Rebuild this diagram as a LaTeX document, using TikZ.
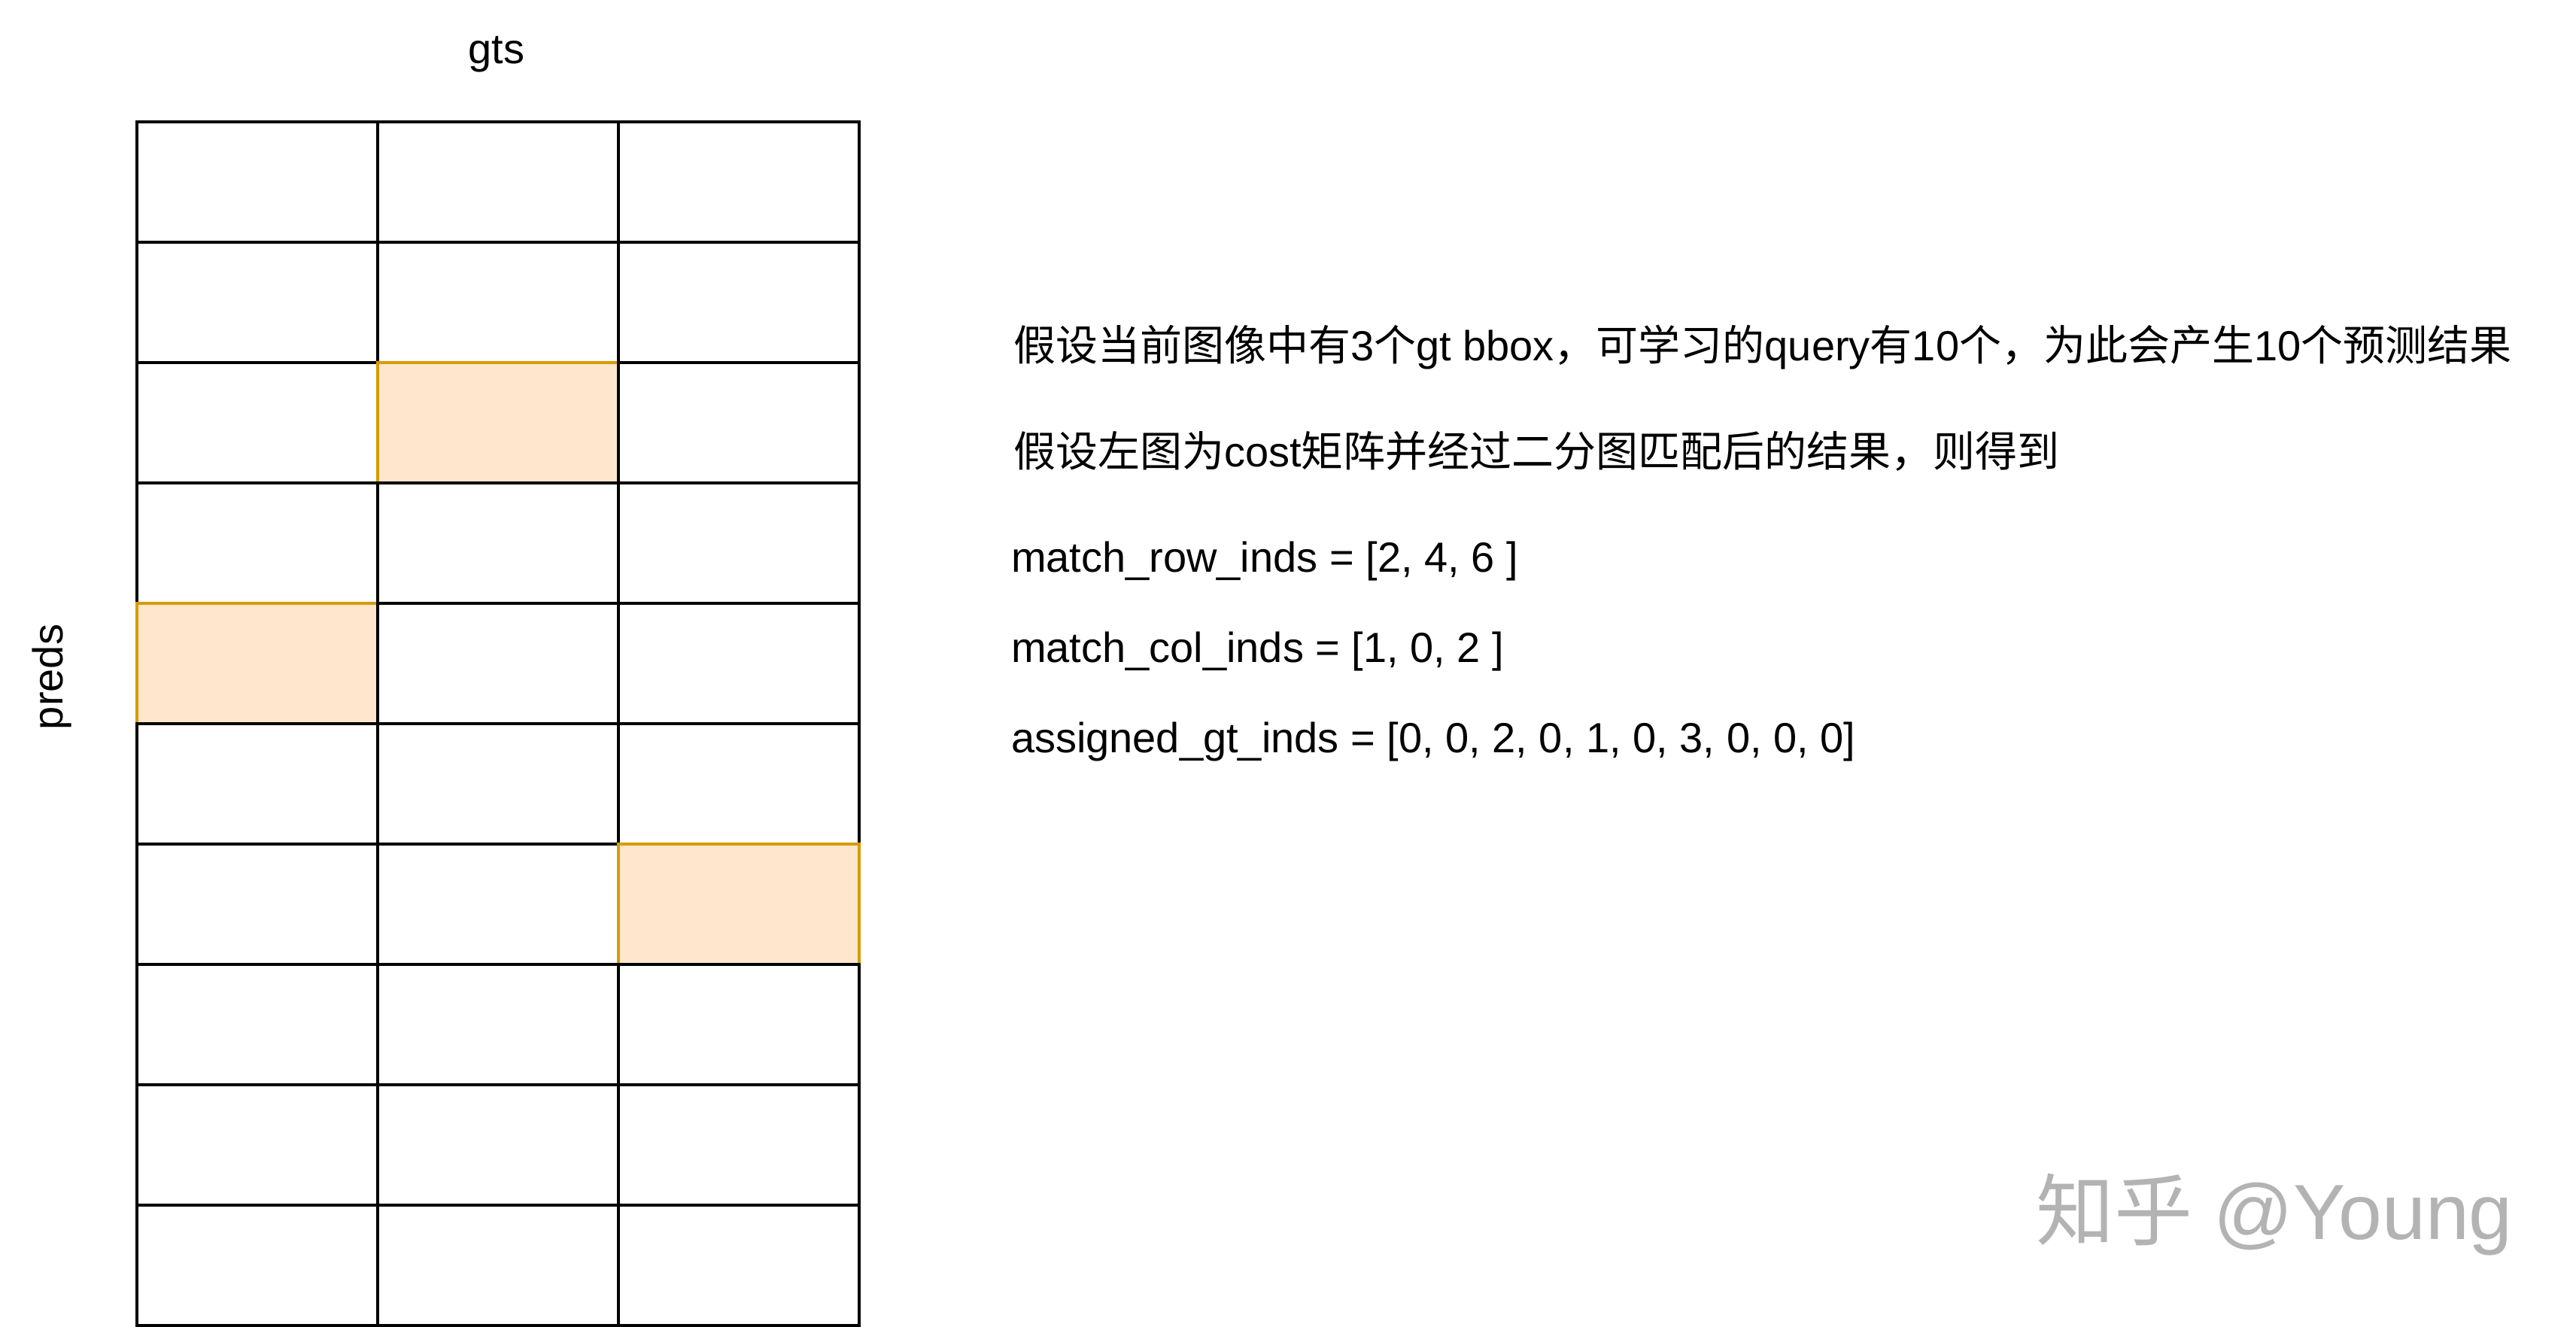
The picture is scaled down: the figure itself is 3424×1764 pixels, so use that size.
\documentclass[tikz,border=0pt]{standalone}
\usepackage{fontspec}
\setmainfont{Liberation Sans}
\newfontfamily\cjk{Noto Sans CJK SC}
\definecolor{hlfill}{HTML}{FFE6CC}
\definecolor{hldraw}{HTML}{D79B00}
\definecolor{wmgray}{HTML}{B3B3B3}
\tikzset{
  cellbox/.style={draw=black, line width=1pt, fill=white, rectangle, inner sep=0pt, outer sep=0pt,
    minimum width=80pt, minimum height=40pt, anchor=north west},
  hlbox/.style={cellbox, draw=hldraw, fill=hlfill},
  lbl/.style={inner sep=0pt, outer sep=0pt, font=\fontsize{14}{16.8}\selectfont},
  wm/.style={inner sep=0pt, outer sep=0pt, text=wmgray, font=\fontsize{26}{31}\selectfont}
}
\begin{document}
\begin{tikzpicture}[x=0.25pt,y=-0.25pt]
\useasboundingbox (0,0) rectangle (3424,1764);
\fill[white] (0,0) rectangle (3424,1764);
% grid of 10 rows x 3 columns, drawn row by row
\foreach \r in {0,...,9}{
  \foreach \c in {0,1,2}{
    \pgfmathtruncatemacro{\ishl}{(\r==2 && \c==1) || (\r==4 && \c==0) || (\r==6 && \c==2) ? 1 : 0}
    \ifnum\ishl=1
      \node[hlbox] (cell-\r-\c) at ({182+320*\c},{162+160*\r}) {};
    \else
      \node[cellbox] (cell-\r-\c) at ({182+320*\c},{162+160*\r}) {};
    \fi
  }
}
\node[lbl, anchor=base] (gts) at (660,85) {gts};
\node[lbl, anchor=base, rotate=90] (preds) at (83,900) {preds};
\node[lbl, anchor=base west] (t1) at (1347,480) {{\cjk 假设当前图像中有}3{\cjk 个}gt bbox{\cjk ，可学习的}query{\cjk 有}10{\cjk 个，为此会产生}10{\cjk 个预测结果}};
\node[lbl, anchor=base west] (t2) at (1347,620) {{\cjk 假设左图为}cost{\cjk 矩阵并经过二分图匹配后的结果，则得到}};
\node[lbl, anchor=base west] (t3) at (1344,760) {match\_row\_inds = [2, 4, 6 ]};
\node[lbl, anchor=base west] (t4) at (1344,880) {match\_col\_inds = [1, 0, 2 ]};
\node[lbl, anchor=base west] (t5) at (1344,1000) {assigned\_gt\_inds = [0, 0, 2, 0, 1, 0, 3, 0, 0, 0]};
\node[wm, anchor=base west] (wmark) at (2706,1647) {{\cjk 知乎} @Young};
\end{tikzpicture}
\end{document}
